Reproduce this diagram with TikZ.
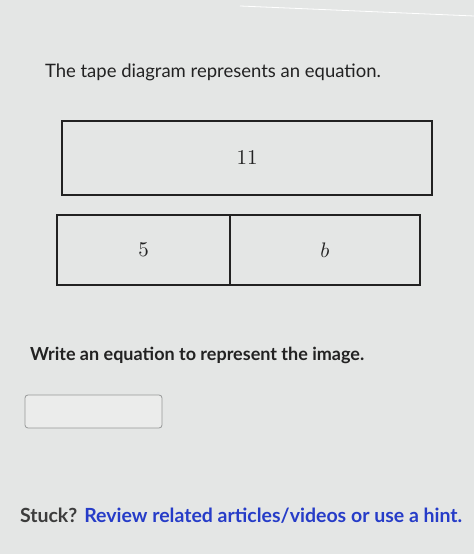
\documentclass[tikz,border=0pt]{standalone}
\usepackage{fontspec}
\setmainfont{Lato}
\usepackage{xcolor}
\usetikzlibrary{positioning}
\definecolor{pageColor}{RGB}{228,230,229}
\definecolor{lineColor}{RGB}{34,34,34}
\definecolor{linkColor}{RGB}{38,60,200}
\definecolor{stuckColor}{RGB}{60,60,60}
\definecolor{boxColor}{RGB}{150,152,152}
\tikzset{
  tapebox/.style={draw=lineColor,line width=1.6pt,inner sep=0pt,outer sep=0pt},
  tapelabel/.style={text=lineColor,inner sep=0pt,outer sep=0pt,scale=2.1},
  prompt/.style={text=lineColor,anchor=base west,inner sep=0pt,outer sep=0pt,font=\fontsize{18.5}{22}\selectfont}
}
\begin{document}
\begin{tikzpicture}[x=1pt,y=1pt]
\path[use as bounding box,fill=pageColor] (0,0) rectangle (474,554);
% faint rule at the very top
\path[draw=white,line width=0.8pt] (240,548) -- (474,538);

\node[prompt] (title) at (45,476) {The tape diagram represents an equation.};

% upper tape: the whole
\node[tapebox,minimum width=370pt,minimum height=74pt] (whole) at (247,396) {};
\node[tapelabel] (eleven) at (whole.center) {$11$};

% lower tape: the two parts
\node[tapebox,minimum width=173pt,minimum height=70pt,anchor=north west] (partA) at (57,339) {};
\node[tapebox,minimum width=190pt,minimum height=70pt,anchor=north west] (partB) at (partA.north east) {};
\node[tapelabel] (five) at (partA.center) {$5$};
\node[tapelabel] (bee) at (partB.center) {$b$};

\node[prompt,font=\bfseries\fontsize{18}{22}\selectfont] (ask) at (30,193) {Write an equation to represent the image.};

% answer field
\path[draw=boxColor,line width=0.8pt,fill=pageColor!75!white,rounded corners=3pt] (25,126) rectangle (162,159);
\node[inner sep=0pt] (answer) at (93.5,142.5) {};

% separator
\path[draw=white!80!gray,line width=0.8pt] (0,80) -- (474,80);

\node[prompt,text=stuckColor,font=\bfseries\fontsize{19.5}{22}\selectfont] (stuck) at (20,31) {Stuck?};
\node[prompt,text=linkColor,font=\bfseries\fontsize{19.5}{22}\selectfont,right=7pt of stuck.base east,anchor=base west] (hint) {Review related articles/videos or use a hint.};
\end{tikzpicture}
\end{document}
